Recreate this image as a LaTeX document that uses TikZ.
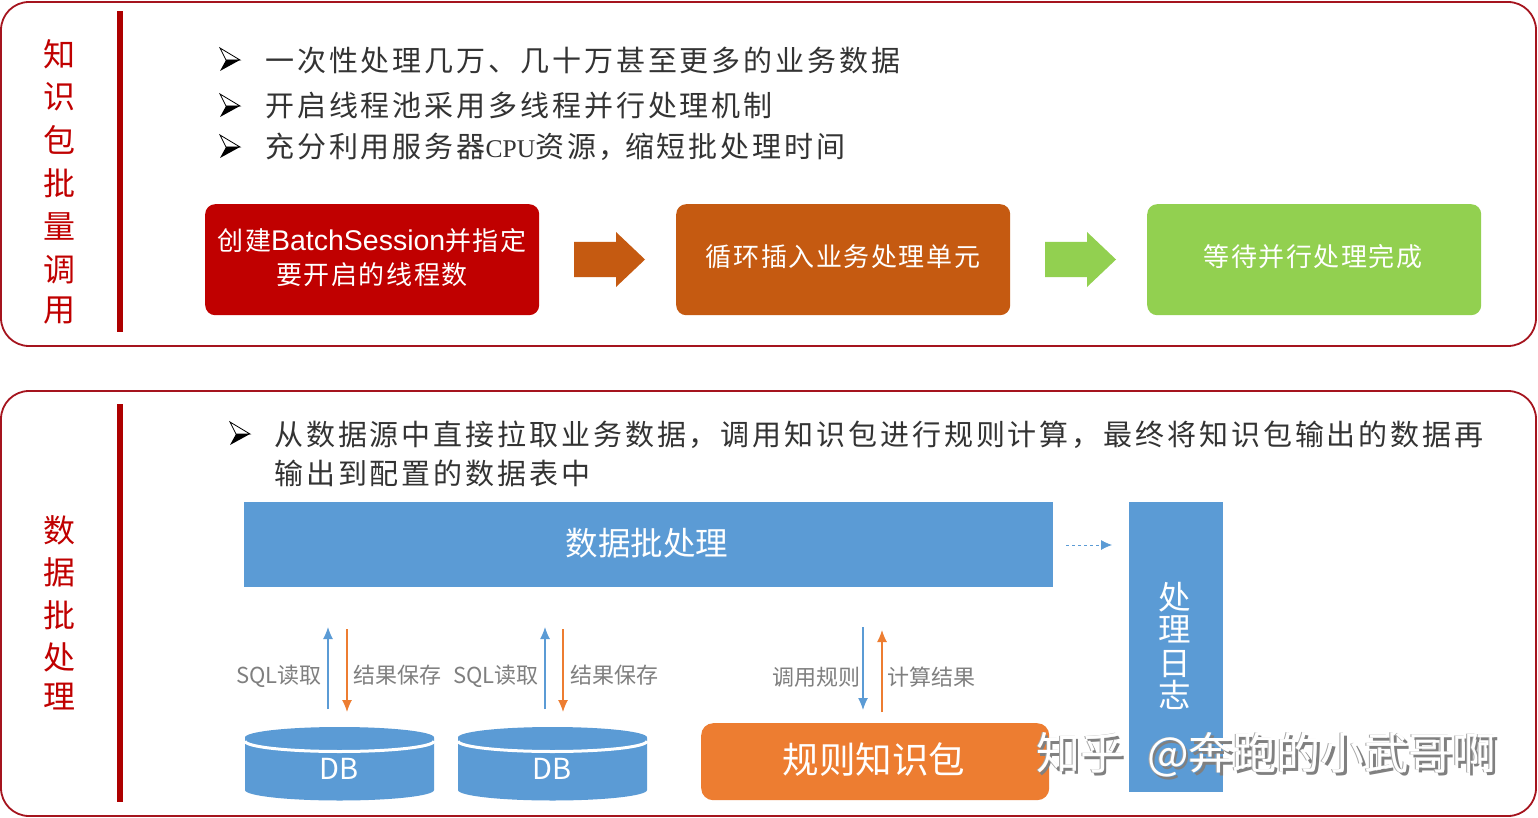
\documentclass[tikz,border=0pt]{standalone}
\usepackage{fontspec}
\setmainfont{Noto Sans CJK SC}
\newfontfamily\bodyfont[LetterSpace=10]{Noto Sans CJK SC}
\newfontfamily\boxfont[LetterSpace=6]{Noto Sans CJK SC}
\newfontfamily\plainfont{Noto Sans CJK SC}
\newfontfamily\latinfont{Liberation Sans}
\newfontfamily\cpufont{Liberation Serif}
\usetikzlibrary{arrows.meta}
\definecolor{panelred}{HTML}{A5141E}
\definecolor{deepred}{HTML}{C00000}
\definecolor{rust}{HTML}{C55A11}
\definecolor{leaf}{HTML}{92D050}
\definecolor{sky}{HTML}{5B9BD5}
\definecolor{amber}{HTML}{ED7D31}
\definecolor{labelgray}{HTML}{7F7F7F}
\newcommand\markwords{知乎\hspace{13pt} @奔跑的小武哥啊}
\newcommand\bigcomma{\char"FF0C\relax}
\tikzset{
	panel/.style={draw=panelred,line width=1.8pt,fill=white,rounded corners=28pt},
	sidebar/.style={fill=deepred!90!black},
	sidetext/.style={text=deepred,inner sep=0pt,font=\plainfont\fontsize{32}{32}\selectfont},
	bodytext/.style={anchor=west,inner sep=0pt,text=black!80,text height=25pt,text depth=4pt,font=\bodyfont\fontsize{29}{29}\selectfont},
	stepbox/.style={anchor=north west,inner sep=0pt,minimum width=334pt,minimum height=111pt,rounded corners=10pt},
	steptext/.style={inner sep=0pt,text=white,font=\boxfont\fontsize{26}{26}\selectfont},
	bluebox/.style={anchor=north west,inner sep=0pt,fill=sky},
	whitetext/.style={inner sep=0pt,text=white,font=\plainfont\fontsize{32.5}{32.5}\selectfont},
	graytext/.style={inner sep=0pt,text=labelgray,font=\plainfont\fontsize{22}{22}\selectfont},
	thinblue/.style={draw=sky,line width=1.2pt,-{Latex[length=12pt,width=10pt]}},
	thinorange/.style={draw=amber,line width=1.2pt,-{Latex[length=12pt,width=10pt]}},
	marktext/.style={anchor=west,inner sep=0pt,font=\plainfont\fontsize{44}{44}\selectfont},
	bulletmark/.pic={
		\draw[black,line width=.8pt,fill=white,line join=miter] (-10,-12) -- (10,0) -- (-4,0) -- cycle;
		\fill[black] (-4,0) -- (10,0) -- (-10,11) -- cycle;
	},
	blockarrow/.pic={
		\fill (-35.5,-17.5) -- (6.5,-17.5) -- (6.5,-27.5) -- (35.5,0) -- (6.5,27.5) -- (6.5,17.5) -- (-35.5,17.5) -- cycle;
	},
}
\begin{document}
\begin{tikzpicture}[x=1pt,y=-1pt]
	\useasboundingbox (0,0) rectangle (1538,818);
	% upper panel
	\draw[panel] (1,2) rectangle (1536,346);
	\fill[sidebar] (117,11) rectangle (123,332);
	\node[sidetext] (upa) at (59,54) {知};
	\node[sidetext] (upb) at (59,97) {识};
	\node[sidetext] (upc) at (59,140) {包};
	\node[sidetext] (upd) at (59,183) {批};
	\node[sidetext] (upe) at (59,226) {量};
	\node[sidetext] (upf) at (59,270) {调};
	\node[sidetext] (upg) at (59,311) {用};
	\pic at (230,60) {bulletmark};
	\pic at (230,106) {bulletmark};
	\pic at (230,147) {bulletmark};
	\node[bodytext] (linea) at (265,61) {一次性处理几万、几十万甚至更多的业务数据};
	\node[bodytext] (lineb) at (265,106) {开启线程池采用多线程并行处理机制};
	\node[bodytext] (linec) at (265,147) {充分利用服务器{\cpufont\fontsize{25.5}{25.5}\selectfont CPU}资源\bigcomma\kern-3pt 缩短批处理时间};
	\node[stepbox,fill=deepred] (batch) at (205,204) {};
	\node[stepbox,fill=rust] (insert) at (676,204) {};
	\node[stepbox,fill=leaf] (wait) at (1147,204) {};
	\node[steptext] (batchtexta) at (372,241) {创建{\latinfont\fontsize{28.5}{28.5}\selectfont BatchSession}并指定};
	\node[steptext] (batchtextb) at (372,275) {要开启的线程数};
	\node[steptext] (inserttext) at (843,257) {循环插入业务处理单元};
	\node[steptext] (waittext) at (1313,257) {等待并行处理完成};
	\pic[rust] at (609.5,259.5) {blockarrow};
	\pic[leaf] at (1080.5,259.5) {blockarrow};
	% lower panel
	\draw[panel] (1,391) rectangle (1536,816);
	\fill[sidebar] (117,404) rectangle (123,802);
	\node[sidetext] (loa) at (59,530) {数};
	\node[sidetext] (lob) at (59,572) {据};
	\node[sidetext] (loc) at (59,615) {批};
	\node[sidetext] (lod) at (59,657) {处};
	\node[sidetext] (loe) at (59,697) {理};
	\pic at (240,434) {bulletmark};
	\node[bodytext] (lined) at (274,435) {从数据源中直接拉取业务数据\bigcomma 调用知识包进行规则计算\bigcomma 最终将知识包输出的数据再};
	\node[bodytext] (linee) at (274,474) {输出到配置的数据表中};
	\node[bluebox,minimum width=809pt,minimum height=85pt] (batchbar) at (244,502) {};
	\node[whitetext] (batchtext) at (647,543) {数据批处理};
	\node[bluebox,minimum width=94pt,minimum height=290pt] (logbar) at (1129,502) {};
	\node[whitetext] (loga) at (1175,597) {处};
	\node[whitetext] (logb) at (1175,629) {理};
	\node[whitetext] (logc) at (1175,664) {日};
	\node[whitetext] (logd) at (1175,695) {志};
	\coordinate (dasha) at (1066,545);
	\coordinate (dashb) at (1112,545);
	\draw[draw=sky,line width=.8pt,dashed,-{Latex[length=11pt,width=10pt]}] (dasha) -- (dashb);
	% databases
	\fill[sky] (245,738) -- (245,790) arc[start angle=180,end angle=0,x radius=94.5,y radius=10.5] -- (434,738) -- cycle;
	\draw[white,line width=3pt] (245,741) arc[start angle=180,end angle=0,x radius=94.5,y radius=10.5];
	\fill[sky] (339.5,737.5) ellipse (94.5 and 10.5);
	\fill[sky] (458,738) -- (458,790) arc[start angle=180,end angle=0,x radius=94.5,y radius=10.5] -- (647,738) -- cycle;
	\draw[white,line width=3pt] (458,741) arc[start angle=180,end angle=0,x radius=94.5,y radius=10.5];
	\fill[sky] (552.5,737.5) ellipse (94.5 and 10.5);
	\node[inner sep=0pt,text=white,font=\plainfont\fontsize{29}{29}\selectfont] (dba) at (339,769) {DB};
	\node[inner sep=0pt,text=white,font=\plainfont\fontsize{29}{29}\selectfont] (dbb) at (552,769) {DB};
	\node[anchor=north west,inner sep=0pt,minimum width=348pt,minimum height=77pt,rounded corners=12pt,fill=amber] (rules) at (701,723) {};
	\node[inner sep=0pt,text=white,font=\plainfont\fontsize{36.5}{36.5}\selectfont] (rulestext) at (874,760) {规则知识包};
	% thin arrows
	\coordinate (rda) at (328,709);
	\coordinate (rdb) at (328,627);
	\coordinate (wra) at (347,629);
	\coordinate (wrb) at (347,712);
	\coordinate (rdc) at (545,709);
	\coordinate (rdd) at (545,627);
	\coordinate (wrc) at (563,629);
	\coordinate (wrd) at (563,712);
	\coordinate (cla) at (863,627);
	\coordinate (clb) at (863,710);
	\coordinate (rea) at (882,712);
	\coordinate (reb) at (882,630);
	\draw[thinblue] (rda) -- (rdb);
	\draw[thinorange] (wra) -- (wrb);
	\draw[thinblue] (rdc) -- (rdd);
	\draw[thinorange] (wrc) -- (wrd);
	\draw[thinblue] (cla) -- (clb);
	\draw[thinorange] (rea) -- (reb);
	\node[graytext] (reada) at (279,676) {SQL读取};
	\node[graytext] (savea) at (397,675) {结果保存};
	\node[graytext] (readb) at (496,676) {SQL读取};
	\node[graytext] (saveb) at (614,675) {结果保存};
	\node[graytext] (callrule) at (816,677) {调用规则};
	\node[graytext] (result) at (931,677) {计算结果};
	% watermark
	\node[marktext] (mark) at (1036,756) {\rlap{\raisebox{-2.5pt}{\kern2.5pt\textcolor{black!50}{\markwords}}}\rlap{\raisebox{.7pt}{\kern-.7pt\textcolor{black!35}{\markwords}}}\textcolor{white}{\markwords}};
\end{tikzpicture}
\end{document}
